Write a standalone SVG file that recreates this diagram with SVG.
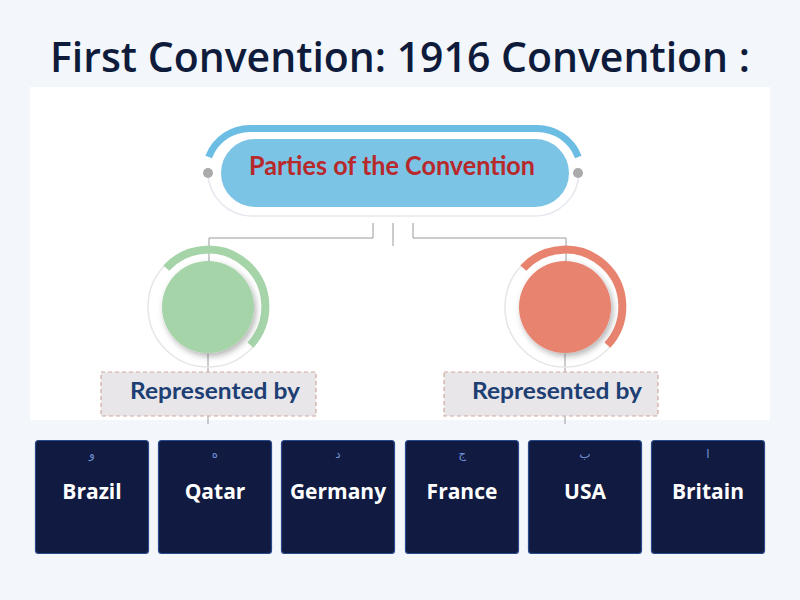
<svg xmlns="http://www.w3.org/2000/svg" width="800" height="600" viewBox="0 0 800 600">
<defs>
<style>
.title{font-family:"Open Sans","Noto Sans",sans-serif;font-size:41px;font-weight:600;fill:#0e1b3b}
.head{font-family:Lato,"Liberation Sans",sans-serif;font-size:26px;font-weight:700;fill:#b8292b}
.rep{font-family:Lato,"Liberation Sans",sans-serif;font-size:23px;font-weight:700;fill:#1d3f73}
.repbox{fill:#e8e6e9;stroke:#cfa99f;stroke-width:1.2;stroke-dasharray:4 3}
.card{fill:#111a40;stroke:#2a4a8e;stroke-width:1.2}
.letter{font-family:"Noto Sans","DejaVu Sans",sans-serif;font-size:12px;fill:#6f8fd6}
.name{font-family:"Open Sans","Noto Sans",sans-serif;font-size:21px;font-weight:700;fill:#ffffff}
.conn{fill:none;stroke:#9a9a9a;stroke-width:1}
.ring{fill:none;stroke:#e6e6e6;stroke-width:1.5}
</style>
<filter id="sh" x="-30%" y="-30%" width="160%" height="160%">
<feDropShadow dx="2" dy="3" stdDeviation="3" flood-color="#000" flood-opacity="0.3"/>
</filter>
</defs>
<rect width="800" height="600" fill="#f3f6fb"/>
<text class="title" x="400" y="72" text-anchor="middle" textLength="700" lengthAdjust="spacingAndGlyphs">First Convention: 1916 Convention :</text>
<rect x="30" y="87" width="740" height="333" fill="#ffffff"/>

<g id="connectors">
<path class="conn" d="M373 223 V238 H209 V262"/>
<path class="conn" d="M393 223 V246"/>
<path class="conn" d="M413 223 V238 H566 V262"/>
<path class="conn" d="M208 354 V372"/>
<path class="conn" d="M208 416 V424"/>
<path class="conn" d="M565 354 V372"/>
<path class="conn" d="M565 416 V424"/>
</g>

<g id="parties">
<path d="M208 173 A44 44 0 0 0 252 216 H535 A44 44 0 0 0 579 173" fill="none" stroke="#e4e8ee" stroke-width="1.5"/>
<path d="M208.7 157 A44 44 0 0 1 252 128.5 H535 A44 44 0 0 1 578.3 157" fill="none" stroke="#6cbde3" stroke-width="7"/>
<circle cx="208" cy="173" r="5" fill="#aaaaaa"/>
<circle cx="578" cy="173" r="5" fill="#aaaaaa"/>
<rect x="220" y="138" width="350" height="70" rx="35" fill="#7cc4e6" stroke="#ffffff" stroke-width="2"/>
<text class="head" x="392" y="175" text-anchor="middle" textLength="286" lengthAdjust="spacingAndGlyphs">Parties of the Convention</text>
</g>

<g id="green-party">
<circle class="ring" cx="208" cy="307" r="60"/>
<path d="M166.3 268.1 A57 57 0 0 1 250.4 345.1" fill="none" stroke="#a5d4a9" stroke-width="8"/>
<circle cx="208" cy="307" r="46" fill="#a5d4a9" filter="url(#sh)"/>
</g>

<g id="red-party">
<circle class="ring" cx="565" cy="307" r="60"/>
<path d="M523.3 268.1 A57 57 0 0 1 607.4 345.1" fill="none" stroke="#e8836f" stroke-width="8"/>
<circle cx="565" cy="307" r="46" fill="#e8836f" filter="url(#sh)"/>
</g>

<g id="rep-left">
<rect class="repbox" x="101" y="372" width="215" height="44"/>
<text class="rep" x="215" y="399" text-anchor="middle" textLength="170" lengthAdjust="spacingAndGlyphs">Represented by</text>
</g>
<g id="rep-right">
<rect class="repbox" x="444" y="372" width="214" height="44"/>
<text class="rep" x="557" y="399" text-anchor="middle" textLength="170" lengthAdjust="spacingAndGlyphs">Represented by</text>
</g>

<g id="card-brazil">
<rect class="card" x="35.5" y="440.5" width="113" height="113" rx="3"/>
<text class="letter" x="92" y="458" text-anchor="middle">و</text>
<text class="name" x="92" y="499" text-anchor="middle">Brazil</text>
</g>
<g id="card-qatar">
<rect class="card" x="158.5" y="440.5" width="113" height="113" rx="3"/>
<text class="letter" x="215" y="458" text-anchor="middle">ه</text>
<text class="name" x="215" y="499" text-anchor="middle">Qatar</text>
</g>
<g id="card-germany">
<rect class="card" x="281.5" y="440.5" width="113" height="113" rx="3"/>
<text class="letter" x="338" y="458" text-anchor="middle">د</text>
<text class="name" x="338" y="499" text-anchor="middle">Germany</text>
</g>
<g id="card-france">
<rect class="card" x="405.5" y="440.5" width="113" height="113" rx="3"/>
<text class="letter" x="462" y="458" text-anchor="middle">ج</text>
<text class="name" x="462" y="499" text-anchor="middle">France</text>
</g>
<g id="card-usa">
<rect class="card" x="528.5" y="440.5" width="113" height="113" rx="3"/>
<text class="letter" x="585" y="458" text-anchor="middle">ب</text>
<text class="name" x="585" y="499" text-anchor="middle">USA</text>
</g>
<g id="card-britain">
<rect class="card" x="651.5" y="440.5" width="113" height="113" rx="3"/>
<text class="letter" x="708" y="458" text-anchor="middle">ا</text>
<text class="name" x="708" y="499" text-anchor="middle">Britain</text>
</g>
</svg>
